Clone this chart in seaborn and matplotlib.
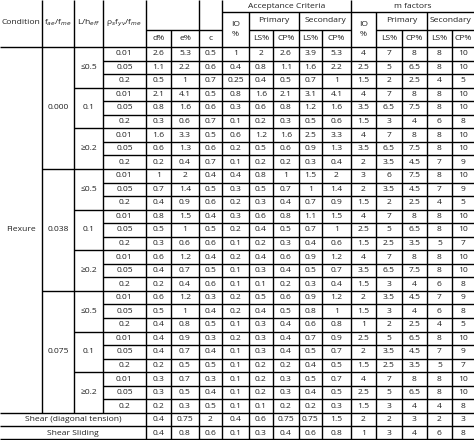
import matplotlib
matplotlib.use("Agg")
import matplotlib.pyplot as plt
import seaborn as sns

sns.set_theme(style="white")
plt.rcParams['font.family'] = ['Open Sans', 'DejaVu Sans']

# column keys of the numeric part
cols = ["d%", "e%", "c", "IO", "ALS", "ACP", "SLS", "SCP", "mIO", "mLS", "mCP", "mSLS", "mSCP"]

f_ratio = ["0.000", "0.038", "0.075"]
lh_groups = ["≤0.5", "0.1", "≥0.2"]
rho = ["0.01", "0.05", "0.2"]

rows = [
    # 0.000
    ["2.6", "5.3", "0.5", "1", "2", "2.6", "3.9", "5.3", "4", "7", "8", "8", "10"],
    ["1.1", "2.2", "0.6", "0.4", "0.8", "1.1", "1.6", "2.2", "2.5", "5", "6.5", "8", "10"],
    ["0.5", "1", "0.7", "0.25", "0.4", "0.5", "0.7", "1", "1.5", "2", "2.5", "4", "5"],
    ["2.1", "4.1", "0.5", "0.8", "1.6", "2.1", "3.1", "4.1", "4", "7", "8", "8", "10"],
    ["0.8", "1.6", "0.6", "0.3", "0.6", "0.8", "1.2", "1.6", "3.5", "6.5", "7.5", "8", "10"],
    ["0.3", "0.6", "0.7", "0.1", "0.2", "0.3", "0.5", "0.6", "1.5", "3", "4", "6", "8"],
    ["1.6", "3.3", "0.5", "0.6", "1.2", "1.6", "2.5", "3.3", "4", "7", "8", "8", "10"],
    ["0.6", "1.3", "0.6", "0.2", "0.5", "0.6", "0.9", "1.3", "3.5", "6.5", "7.5", "8", "10"],
    ["0.2", "0.4", "0.7", "0.1", "0.2", "0.2", "0.3", "0.4", "2", "3.5", "4.5", "7", "9"],
    # 0.038
    ["1", "2", "0.4", "0.4", "0.8", "1", "1.5", "2", "3", "6", "7.5", "8", "10"],
    ["0.7", "1.4", "0.5", "0.3", "0.5", "0.7", "1", "1.4", "2", "3.5", "4.5", "7", "9"],
    ["0.4", "0.9", "0.6", "0.2", "0.3", "0.4", "0.7", "0.9", "1.5", "2", "2.5", "4", "5"],
    ["0.8", "1.5", "0.4", "0.3", "0.6", "0.8", "1.1", "1.5", "4", "7", "8", "8", "10"],
    ["0.5", "1", "0.5", "0.2", "0.4", "0.5", "0.7", "1", "2.5", "5", "6.5", "8", "10"],
    ["0.3", "0.6", "0.6", "0.1", "0.2", "0.3", "0.4", "0.6", "1.5", "2.5", "3.5", "5", "7"],
    ["0.6", "1.2", "0.4", "0.2", "0.4", "0.6", "0.9", "1.2", "4", "7", "8", "8", "10"],
    ["0.4", "0.7", "0.5", "0.1", "0.3", "0.4", "0.5", "0.7", "3.5", "6.5", "7.5", "8", "10"],
    ["0.2", "0.4", "0.6", "0.1", "0.1", "0.2", "0.3", "0.4", "1.5", "3", "4", "6", "8"],
    # 0.075
    ["0.6", "1.2", "0.3", "0.2", "0.5", "0.6", "0.9", "1.2", "2", "3.5", "4.5", "7", "9"],
    ["0.5", "1", "0.4", "0.2", "0.4", "0.5", "0.8", "1", "1.5", "3", "4", "6", "8"],
    ["0.4", "0.8", "0.5", "0.1", "0.3", "0.4", "0.6", "0.8", "1", "2", "2.5", "4", "5"],
    ["0.4", "0.9", "0.3", "0.2", "0.3", "0.4", "0.7", "0.9", "2.5", "5", "6.5", "8", "10"],
    ["0.4", "0.7", "0.4", "0.1", "0.3", "0.4", "0.5", "0.7", "2", "3.5", "4.5", "7", "9"],
    ["0.2", "0.5", "0.5", "0.1", "0.2", "0.2", "0.4", "0.5", "1.5", "2.5", "3.5", "5", "7"],
    ["0.3", "0.7", "0.3", "0.1", "0.2", "0.3", "0.5", "0.7", "4", "7", "8", "8", "10"],
    ["0.3", "0.5", "0.4", "0.1", "0.2", "0.3", "0.4", "0.5", "2.5", "5", "6.5", "8", "10"],
    ["0.2", "0.3", "0.5", "0.1", "0.1", "0.2", "0.2", "0.3", "1.5", "3", "4", "4", "8"],
]
shear_labels = ["Shear (diagonal tension)", "Shear Sliding"]
shear_rows = [
    ["0.4", "0.75", "2", "0.4", "0.6", "0.75", "0.75", "1.5", "2", "2", "3", "2", "3"],
    ["0.4", "0.8", "0.6", "0.1", "0.3", "0.4", "0.6", "0.8", "1", "3", "4", "6", "8"],
]

W, H = 474, 440
fig = plt.figure(figsize=(W / 100, H / 100), dpi=100)
ax = fig.add_axes([0, 0, 1, 1])
ax.set_xlim(0, W)
ax.set_ylim(H, 0)
ax.axis("off")

# column edges in pixels
xs = [0, 42, 74, 103, 146, 171, 199, 222, 249, 273, 299, 322, 351, 376, 402, 427, 452, 474]
num_x = xs[4:]
rh = (H - 47) / 29
ys = [47 + i * rh for i in range(30)]
lw = 1.0
fs = 6.1
col = "black"

def hl(y, x0, x1):
    ax.plot([x0, x1], [y, y], color=col, lw=lw, solid_capstyle="butt")

def vl(x, y0, y1):
    ax.plot([x, x], [y0, y1], color=col, lw=lw, solid_capstyle="butt")

def txt(x, y, s, **kw):
    ax.text(x, y, s, ha="center", va="center", fontsize=fs, color="#222222", **kw)

def mid(a, b):
    return (a + b) / 2

# header
txt(mid(0, 42), 23, "Condition")
txt(mid(42, 74), 23, r"f$_{ae}$/f$_{me}$")
txt(mid(74, 103), 23, r"L/h$_{eff}$")
txt(mid(103, 146), 23, r"ρ$_s$f$_{yv}$/f$_{me}$")
txt(mid(222, 351), 6, "Acceptance Criteria")
txt(mid(351, 474), 6, "m factors")
for x0, x1 in [(249, 299), (376, 427)]:
    txt(mid(x0, x1), 21, "Primary")
for x0, x1 in [(299, 351), (427, 474)]:
    txt(mid(x0, x1), 21, "Secondary")
for x0, x1 in [(222, 249), (351, 376)]:
    txt(mid(x0, x1), 25, "IO")
    txt(mid(x0, x1), 35, "%")
sub = ["d%", "e%", "c", None, "LS%", "CP%", "LS%", "CP%", None, "LS%", "CP%", "LS%", "CP%"]
for i, s in enumerate(sub):
    if s:
        txt(mid(num_x[i], num_x[i + 1]), 39, s)

hl(12, 222, 474)
hl(30, 146, 222)
for a, b in [(249, 351), (376, 474)]:
    hl(30, a, b)
hl(47, 0, 474)
for x in [42, 74, 103, 146, 199, 222, 351]:
    vl(x, 0, 47)
vl(171, 30, 47)
for x in [249, 299, 376, 427]:
    vl(x, 12, 47)
for x in [273, 322, 402, 452]:
    vl(x, 30, 47)

# body
for r, vals in enumerate(rows):
    yc = mid(ys[r], ys[r + 1])
    txt(mid(103, 146), yc, rho[r % 3])
    for i, v in enumerate(vals):
        txt(mid(num_x[i], num_x[i + 1]), yc, v)
    if r > 0:
        if r % 9 == 0:
            hl(ys[r], 42, 474)
        elif r % 3 == 0:
            hl(ys[r], 74, 474)
        else:
            hl(ys[r], 103, 474)
for g in range(3):
    txt(mid(42, 74), mid(ys[g * 9], ys[g * 9 + 9]), f_ratio[g])
    for k in range(3):
        r0 = g * 9 + k * 3
        txt(mid(74, 103), mid(ys[r0], ys[r0 + 3]), lh_groups[k])
txt(mid(0, 42), mid(ys[0], ys[27]), "Flexure")
for x in [42, 74]:
    vl(x, 47, ys[27])
for x in xs[3:-1]:
    vl(x, 47, ys[27])

for j, (lab, vals) in enumerate(zip(shear_labels, shear_rows)):
    r = 27 + j
    yc = mid(ys[r], ys[r + 1])
    hl(ys[r], 0, 474)
    txt(mid(0, 146), yc, lab)
    for i, v in enumerate(vals):
        txt(mid(num_x[i], num_x[i + 1]), yc, v)
for x in xs[4:-1]:
    vl(x, ys[27], H)
hl(H - 0.5, 0, 474)

fig.savefig("out.png", dpi=100)
